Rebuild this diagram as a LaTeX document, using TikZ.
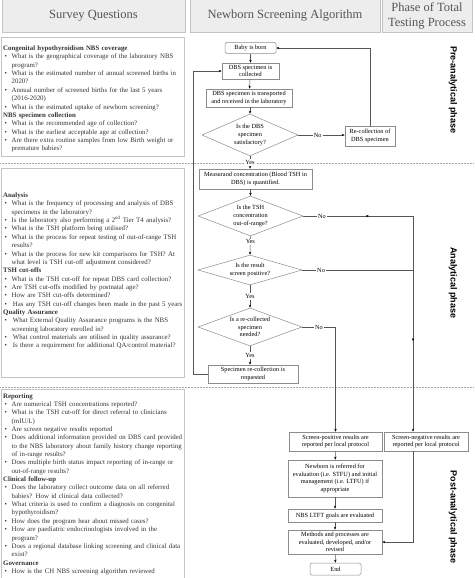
\documentclass[tikz,border=0pt]{standalone}
\usepackage{fontspec}
\setmainfont{Liberation Serif}
\newfontfamily\phasefont{Liberation Sans}
\usetikzlibrary{arrows.meta,shapes.geometric,decorations.markings}
\definecolor{hdrfill}{HTML}{EDEDED}
\definecolor{hdrline}{HTML}{C4C4C4}
\definecolor{hdrtext}{HTML}{555555}
\definecolor{qtext}{HTML}{333333}
\definecolor{boxline}{HTML}{8C8C8C}
\definecolor{conline}{HTML}{555555}
\newcommand{\qhead}[1]{\par\noindent\textbf{#1}\par}
\newcommand{\qitem}[1]{\par\noindent\hangindent=8.5pt\hangafter=1\hbox to 8.5pt{\hskip1.5pt\textbullet\hfil}#1\par}
\begin{document}
\begin{tikzpicture}[x=1pt,y=-1pt,
  hdr/.style={draw=hdrline,fill=hdrfill,line width=0.5pt},
  hdrlabel/.style={text=hdrtext,font=\fontsize{12.5}{15}\selectfont,align=center},
  qbox/.style={draw=hdrline,line width=0.5pt},
  qtextnode/.style={anchor=north west,inner sep=0pt,text width=205pt,text=qtext,
    font=\fontsize{6.85}{8.35}\selectfont,align=left},
  algbox/.style={draw=boxline,line width=0.5pt,rectangle,inner sep=0pt,align=center,
    font=\fontsize{6.3}{7.6}\selectfont},
  termbox/.style={algbox,rounded corners=1.5pt},
  diabox/.style={draw=boxline,line width=0.5pt,diamond,inner sep=0pt},
  diatext/.style={align=center,inner sep=0pt,font=\fontsize{6.3}{7.6}\selectfont},
  conn/.style={draw=conline,line width=0.5pt},
  arr/.style={conn,-{Stealth[length=3pt,width=2.4pt,black]}},
  lbl/.style={fill=white,inner sep=1pt,font=\fontsize{6.3}{7.6}\selectfont},
  midarr/.style={postaction={decorate},decoration={markings,
    mark=at position #1 with {\arrow{Stealth[length=3pt,width=2.4pt,black]}}}},
  phase/.style={rotate=-90,font=\phasefont\bfseries\fontsize{9}{11}\selectfont},
  sep/.style={draw=gray!70,line width=0.5pt,densely dotted}
]
\useasboundingbox (0,0) rectangle (474,578);
% headers
\path[hdr] (2,-3) rectangle (185,32);
\path[hdr] (190,-3) rectangle (380,32);
\path[hdr] (382,-3) rectangle (472,32);
\node[hdrlabel] (h1) at (93.5,16) {Survey Questions};
\node[hdrlabel] (h2) at (285,16) {Newborn Screening Algorithm};
\node[hdrlabel] (h3) at (427,16) {Phase of Total\\Testing Process};
% separators
\path[sep] (0,163) -- (474,163);
\path[sep] (0,387) -- (474,387);
% question boxes
\path[qbox] (1,37) rectangle (184,156);
\path[qbox] (1,168) rectangle (184,377);
\path[qbox] (1,389) rectangle (184,580);
\node[qtextnode] (q1) at (3,42) {%
\qhead{Congenital hypothyroidism NBS coverage}
\qitem{What is the geographical coverage of the laboratory NBS\newline program?}
\qitem{What is the estimated number of annual screened births in\newline 2020?}
\qitem{Annual number of screened births for the last 5 years\newline (2016-2020)}
\qitem{What is the estimated uptake of newborn screening?}
\qhead{NBS specimen collection}
\qitem{What is the recommended age of collection?}
\qitem{What is the earliest acceptable age at collection?}
\qitem{Are there extra routine samples from low Birth weight or\newline premature babies?}};
\node[qtextnode] (q2) at (3,189) {%
\qhead{Analysis}
\qitem{What is the frequency of processing and analysis of DBS\newline specimens in the laboratory?}
\qitem{Is the laboratory also performing a 2\textsuperscript{nd} Tier T4 analysis?}
\qitem{What is the TSH platform being utilised?}
\qitem{What is the process for repeat testing of out-of-range TSH\newline results?}
\qitem{What is the process for new kit comparisons for TSH? At\newline what level is TSH cut-off adjustment considered?}
\qhead{TSH cut-offs}
\qitem{What is the TSH cut-off for repeat DBS card collection?}
\qitem{Are TSH cut-offs modified by postnatal age?}
\qitem{How are TSH cut-offs determined?}
\qitem{\,Has any TSH cut-off changes been made in the past 5 years}
\qhead{Quality Assurance}
\qitem{\,What External Quality Assurance programs is the NBS\newline screening laboratory enrolled in?}
\qitem{\,What control materials are utilised in quality assurance?}
\qitem{\,Is there a requirement for additional QA/control material?}};
\node[qtextnode] (q3) at (3,389.5) {%
\qhead{Reporting}
\qitem{Are numerical TSH concentrations reported?}
\qitem{What is the TSH cut-off for direct referral to clinicians\newline (mIU/L)}
\qitem{Are screen negative results reported}
\qitem{Does additional information provided on DBS card provided\newline to the NBS laboratory about family history change reporting\newline of in-range results?}
\qitem{Does multiple birth status impact reporting of in-range or\newline out-of-range results?}
\qhead{Clinical follow-up}
\qitem{Does the laboratory collect outcome data on all referred\newline babies? How id clinical data collected?}
\qitem{What criteria is used to confirm a diagnosis on congenital\newline hypothyroidism?}
\qitem{How does the program hear about missed cases?}
\qitem{How are paediatric endocrinologists involved in the\newline program?}
\qitem{Does a regional database linking screening and clinical data\newline exist?}
\qhead{Governance}
\qitem{How is the CH NBS screening algorithm reviewed}};
% algorithm nodes
\node[termbox,minimum width=51pt,minimum height=11pt] (born) at (250.5,48) {Baby is born};
\node[algbox,minimum width=57pt,minimum height=16pt] (coll) at (250.5,71) {DBS specimen is\\collected};
\node[algbox,minimum width=86pt,minimum height=18pt] (trans) at (249,98) {DBS specimen is transported\\and received in the laboratory};
\node[diabox,minimum width=96pt,minimum height=42pt] (d1) at (250,135) {};
\node[diatext] (d1t) at (d1) {Is the DBS\\specimen\\satisfactory?};
\node[algbox,minimum width=50pt,minimum height=20pt] (recoll) at (370,136) {Re-collection of\\DBS specimen};
\node[algbox,minimum width=113pt,minimum height=20pt] (meas) at (255.5,179) {Measurand concentration (Blood TSH in\\DBS) is quantified.};
\node[diabox,minimum width=105pt,minimum height=40pt] (d2) at (250.5,216) {};
\node[diatext] (d2t) at (d2) {Is the TSH\\concentration\\out-of-range?};
\node[diabox,minimum width=104pt,minimum height=30pt] (d3) at (250,270) {};
\node[diatext] (d3t) at (d3) {Is the result\\screen positive?};
\node[diabox,minimum width=104pt,minimum height=38pt] (d4) at (250,327) {};
\node[diatext] (d4t) at (d4) {Is a re-collected\\specimen\\needed?};
\node[algbox,minimum width=90pt,minimum height=18pt] (req) at (253,374) {Specimen re-collection is\\requested};
\node[algbox,minimum width=93pt,minimum height=19pt] (pos) at (335.5,441.5) {Screen-positive results are\\reported per local protocol};
\node[algbox,minimum width=84pt,minimum height=19pt] (neg) at (426,441.5) {Screen-negative results are\\reported per local protocol};
\node[algbox,minimum width=94pt,minimum height=37pt] (refer) at (335,478.5) {Newborn is referred for\\evaluation (i.e. STFU) and initial\\management (i.e. LTFU) if\\appropriate};
\node[algbox,minimum width=94pt,minimum height=13pt] (ltft) at (335,515.5) {NBS LTFT goals are evaluated};
\node[algbox,minimum width=94pt,minimum height=24pt] (meth) at (335,542) {Methods and processes are\\evaluated, developed, and/or\\revised};
\node[termbox,minimum width=51pt,minimum height=12pt] (end) at (335.5,569) {End};
\coordinate (c1) at (413,216);
% connectors
\draw[arr] (born) -- (coll);
\draw[arr] (coll) -- (trans);
\draw[arr] (trans.south -| d1.north) -- (d1.north);
\draw[arr] (d1.east) -- node[lbl,pos=0.42] {No} (recoll.west |- d1.east);
\draw[arr] (recoll.north) |- (born.east);
\draw[arr] (d1.south) -- node[lbl,pos=0.5] {Yes} (d1.south |- meas.north);
\draw[arr] (d2.north |- meas.south) -- (d2.north);
\draw[conn,midarr=0.6] (d2.east) -- node[lbl,pos=0.17] {No} (c1);
\draw[arr,midarr=0.58] (c1) -- (c1 |- neg.north);
\draw[arr] (d2.south) -- node[lbl,pos=0.3] {Yes} (d3.north);
\draw[conn] (d3.east) -- node[lbl,pos=0.17] {No} (d3.east -| c1);
\draw[arr] (d3.south) -- node[lbl,pos=0.5] {Yes} (d4.north);
\draw[arr] (d4.east) -- node[lbl,pos=0.5] {No} (d4.east -| pos.north) -- (pos.north);
\draw[arr] (d4.south) -- node[lbl,pos=0.5] {Yes} (d4.south |- req.north);
\draw[arr] (req.west) -- ++(-15,0) |- (coll.west);
\draw[arr] (pos) -- (refer);
\draw[arr] (refer) -- (ltft);
\draw[arr] (ltft) -- (meth);
\draw[arr] (meth) -- (end);
\draw[arr] (c1 |- neg.south) |- (meth.east);
% phase labels
\node[phase] (p1) at (453,90) {Pre-analytical phase};
\node[phase] (p2) at (453,283) {Analytical phase};
\node[phase] (p3) at (453,517) {Post-analytical phase};
\end{tikzpicture}
\end{document}
